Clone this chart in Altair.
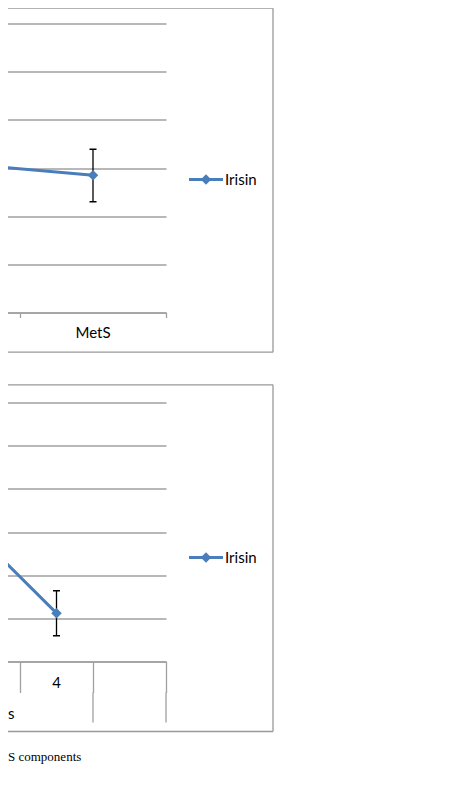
import altair as alt
import pandas as pd

# ---------------- data ----------------
# top panel: groups by MetS status (left category is cut off in the picture)
top_categories = ["Non-MetS", "MetS"]
top_irisin = [3.12, 2.85]
top_err_low = [None, 2.30]
top_err_high = [None, 3.39]

# bottom panel: number of MetS components (only "4" and a blank slot visible)
bottom_categories = ["0", "1", "2", "3", "4", ""]
bottom_irisin = [None, None, None, 2.80, 1.12, None]
bottom_err_low = [None, None, None, None, 0.595, None]
bottom_err_high = [None, None, None, None, 1.64, None]

y_ticks = [0, 1, 2, 3, 4, 5, 6]
series_name = "Irisin"
group_label_tail = "s"
caption_tail = "S components"

BLUE = "#4A7EBB"
GRID = "#A0A0A0"
BOX = "#999999"
FONT = "Lato"


def panel(cats, vals, lo, hi, xdomain, ticks, tick_size, long_bounds,
          height, box_top, box_bottom, legend_y, label_gap, extra_texts):
    width = 166
    df = pd.DataFrame({"idx": list(range(len(cats))), "cat": cats,
                       "irisin": vals, "lo": lo, "hi": hi})
    xs = alt.Scale(domain=xdomain, nice=False, zero=False)
    ys = alt.Scale(domain=[0, 6], nice=False, zero=True)
    x_axis = alt.Axis(values=ticks, labels=False, grid=False, title=None,
                      domain=True, ticks=True,
                      tickSize=tick_size, domainColor=GRID, tickColor=GRID,
                      domainWidth=1.3, tickWidth=1.3)
    y_axis = alt.Axis(values=y_ticks, grid=True, gridColor=GRID, gridWidth=1.3,
                      labels=False, ticks=False, domain=False, title=None,
                      minExtent=0, maxExtent=0)
    x_enc = alt.X("idx:Q", scale=xs, axis=x_axis)
    base = alt.Chart(df)

    err = base.mark_rule(color="black", strokeWidth=1.3, clip=True).encode(
        x=x_enc, y=alt.Y("lo:Q", scale=ys, axis=y_axis), y2="hi:Q")
    cap_lo = base.mark_point(shape="M-1,0L1,0", size=49, filled=False,
                             color="black", strokeWidth=1.5, opacity=1,
                             clip=True).encode(
        x=x_enc, y=alt.Y("lo:Q", scale=ys, axis=y_axis))
    cap_hi = base.mark_point(shape="M-1,0L1,0", size=49, filled=False,
                             color="black", strokeWidth=1.5, opacity=1,
                             clip=True).encode(
        x=x_enc, y=alt.Y("hi:Q", scale=ys, axis=y_axis))
    line = base.mark_line(color=BLUE, strokeWidth=3, clip=True).encode(
        x=x_enc, y=alt.Y("irisin:Q", scale=ys, axis=y_axis))
    pts = base.mark_point(shape="diamond", filled=True, size=110, color=BLUE,
                          opacity=1, clip=True).encode(
        x=x_enc, y=alt.Y("irisin:Q", scale=ys, axis=y_axis))

    labels = base.transform_filter(
        f"datum.idx >= {xdomain[0]} && datum.idx <= {xdomain[1]}"
    ).mark_text(font=FONT, fontSize=15, color="black", baseline="middle").encode(
        x=x_enc, y=alt.value(height + label_gap), text="cat:N")

    layers = [err, line, pts, cap_lo, cap_hi, labels]

    if long_bounds:
        bdf = pd.DataFrame({"idx": long_bounds})
        ext = alt.Chart(bdf).mark_rule(color=GRID, strokeWidth=1.3).encode(
            x=x_enc, y=alt.value(height + tick_size), y2=alt.value(height + 61))
        layers.append(ext)

    # chart-area frame (left side is outside the picture)
    one = pd.DataFrame({"k": [0]})
    frame = alt.Chart(one)
    layers += [
        frame.mark_rule(color=BOX, strokeWidth=1.3).encode(
            x=alt.value(0), x2=alt.value(273), y=alt.value(box_top)),
        frame.mark_rule(color=BOX, strokeWidth=1.3).encode(
            x=alt.value(0), x2=alt.value(273), y=alt.value(box_bottom)),
        frame.mark_rule(color=BOX, strokeWidth=1.3).encode(
            x=alt.value(273), y=alt.value(box_top), y2=alt.value(box_bottom)),
    ]

    # legend
    leg = alt.Chart(pd.DataFrame({"name": [series_name]}))
    layers += [
        leg.mark_rule(color=BLUE, strokeWidth=3).encode(
            x=alt.value(189), x2=alt.value(223), y=alt.value(legend_y)),
        leg.mark_point(shape="diamond", filled=True, size=110, color=BLUE,
                       opacity=1).encode(
            x=alt.value(206), y=alt.value(legend_y)),
        leg.mark_text(font=FONT, fontSize=15, color="black", align="left",
                      baseline="middle").encode(
            x=alt.value(225), y=alt.value(legend_y), text="name:N"),
    ]

    for txt, tx, ty, fnt, fs in extra_texts:
        layers.append(
            alt.Chart(pd.DataFrame({"t": [txt]})).mark_text(
                font=fnt, fontSize=fs, color="black", align="left",
                baseline="middle").encode(
                x=alt.value(tx), y=alt.value(ty), text="t:N"))

    return alt.layer(*layers).properties(width=width, height=height)


top = panel(top_categories, top_irisin, top_err_low, top_err_high,
            xdomain=[0.363, 1.5], ticks=[0.5, 1.5], tick_size=5,
            long_bounds=None, height=289, box_top=-15.3, box_bottom=328.7,
            legend_y=156, label_gap=20, extra_texts=[])

bottom = panel(bottom_categories, bottom_irisin, bottom_err_low, bottom_err_high,
               xdomain=[3.226, 5.5], ticks=[3.5, 4.5, 5.5], tick_size=31,
               long_bounds=[4.5, 5.5], height=259, box_top=-17.7, box_bottom=329,
               legend_y=155, label_gap=21,
               extra_texts=[(group_label_tail, 8, 311.5, FONT, 15),
                            (caption_tail, 8, 354.5, "Liberation Serif", 13)])

chart = alt.vconcat(top, bottom, spacing=30).properties(
    padding={"left": -9, "top": -0.5, "right": 5, "bottom": 5},
    background="white"
).configure_view(stroke="transparent", strokeWidth=0).configure_axis(
    domain=False, grid=False, ticks=False, labels=False, title=None
)

chart.save("out.html", embed_options={"renderer": "svg", "actions": False})
